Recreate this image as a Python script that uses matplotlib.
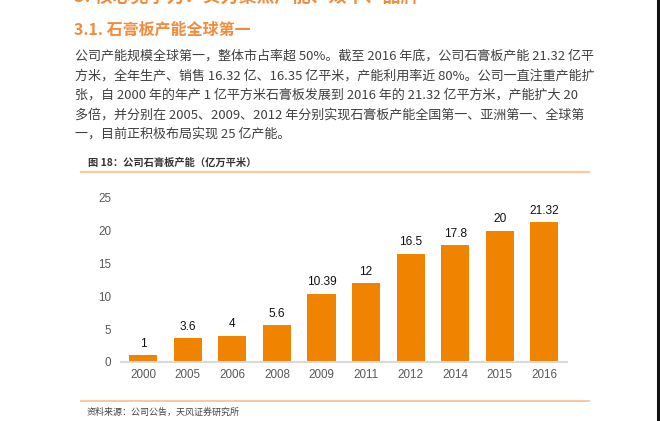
import matplotlib
matplotlib.use("Agg")
import matplotlib.pyplot as plt
from matplotlib.lines import Line2D

plt.rcParams['font.family'] = ['Noto Sans CJK SC', 'DejaVu Sans']

years = ['2000', '2005', '2006', '2008', '2009', '2011', '2012', '2014', '2015', '2016']
capacity = [1, 3.6, 4, 5.6, 10.39, 12, 16.5, 17.8, 20, 21.32]
value_labels = ['1', '3.6', '4', '5.6', '10.39', '12', '16.5', '17.8', '20', '21.32']
yticks = [0, 5, 10, 15, 20, 25]

section_title = '3. 核心竞争力：实力聚焦产能、效率、品牌'
sub_title = '3.1. 石膏板产能全球第一'
body_lines = [
    '公司产能规模全球第一，整体市占率超 50%。截至 2016 年底，公司石膏板产能 21.32 亿平',
    '方米，全年生产、销售 16.32 亿、16.35 亿平米，产能利用率近 80%。公司一直注重产能扩',
    '张，自 2000 年的年产 1 亿平方米石膏板发展到 2016 年的 21.32 亿平方米，产能扩大 20',
    '多倍，并分别在 2005、2009、2012 年分别实现石膏板产能全国第一、亚洲第一、全球第',
    '一，目前正积极布局实现 25 亿产能。',
]
chart_title = '图 18：公司石膏板产能（亿万平米）'
source_note = '资料来源：公司公告，天风证券研究所'

W, H = 660, 421
fig = plt.figure(figsize=(W / 100, H / 100), dpi=100)
fig.patch.set_facecolor('white')


def fx(x):
    return x / W


def fy(y):
    return 1 - y / H


orange = '#F08300'
head_orange = '#F28C3A'
text_gray = '#404040'

# page text (top heading is cut off by the page edge, as in the scan)
fig.text(fx(74), fy(-3), section_title, color=head_orange, fontsize=13,
         fontweight='bold', va='center', ha='left')
fig.text(fx(74), fy(30), sub_title, color=head_orange, fontsize=11.5,
         fontweight='bold', va='center', ha='left')
for i, line in enumerate(body_lines):
    fig.text(fx(75), fy(56 + i * 19.6), line, color=text_gray, fontsize=9.4,
             va='center', ha='left')

fig.text(fx(88), fy(163), chart_title, color='#333333', fontsize=7.4,
         fontweight='bold', va='center', ha='left')
fig.add_artist(Line2D([fx(81), fx(589)], [fy(172.5), fy(172.5)],
                      color='#F9C9A0', lw=1.6))
fig.add_artist(Line2D([fx(81), fx(589)], [fy(401), fy(401)],
                      color='#F9C9A0', lw=1.4))
fig.text(fx(87), fy(412), source_note, color='#444444', fontsize=6.5,
         va='center', ha='left')

# right page border
fig.add_artist(Line2D([fx(657.8), fx(657.8)], [0, 1], color='#111111', lw=2.2))

# chart
ax = fig.add_axes([fx(121), fy(362), (566.5 - 121) / W, (362 - 198) / H])
bars = ax.bar(years, capacity, width=0.63, color=orange)
ax.set_xlim(-0.5, len(years) - 0.5)
ax.set_ylim(0, 25)
ax.set_yticks(yticks)
for s in ['top', 'right', 'left']:
    ax.spines[s].set_visible(False)
ax.spines['bottom'].set_color('#D9D9D9')
ax.spines['bottom'].set_linewidth(1.5)
ax.tick_params(axis='both', length=0, colors='#595959', labelsize=8.4)
ax.tick_params(axis='y', pad=7)
ax.tick_params(axis='x', pad=5)
for lab in ax.get_xticklabels() + ax.get_yticklabels():
    lab.set_fontfamily('Liberation Sans')
ax.set_facecolor('none')

for bar, lab in zip(bars, value_labels):
    ax.annotate(lab, (bar.get_x() + bar.get_width() / 2, bar.get_height()),
                xytext=(0, 4), textcoords='offset points', ha='center',
                va='bottom', fontsize=8.6, color='#111111',
                family='Liberation Sans')

fig.savefig('out.png', dpi=100)
